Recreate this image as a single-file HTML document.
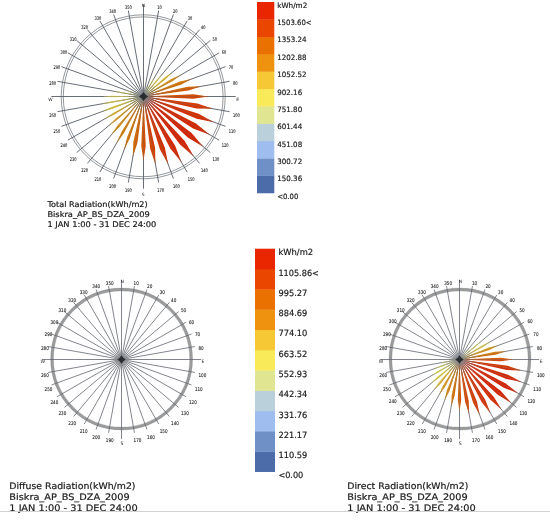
<!DOCTYPE html>
<html><head><meta charset="utf-8"><title>Radiation Rose</title>
<style>html,body{margin:0;padding:0;background:#fff;}svg{display:block;}text{text-rendering:geometricPrecision;}</style></head>
<body>
<svg width="550" height="521" viewBox="0 0 550 521" font-family="DejaVu Sans, Liberation Sans, sans-serif">
<defs><radialGradient id="halo"><stop offset="0" stop-color="#7c8187" stop-opacity="0.85"/><stop offset="0.55" stop-color="#8d9196" stop-opacity="0.55"/><stop offset="1" stop-color="#a0a4a8" stop-opacity="0"/></radialGradient></defs>
<rect width="550" height="521" fill="#ffffff"/>
<g>
<circle cx="143.2" cy="96.8" r="82.0" fill="none" stroke="#4c5259" stroke-width="0.6"/>
<circle cx="143.2" cy="96.8" r="79.9" fill="none" stroke="#4c5259" stroke-width="0.6"/>
<path d="M143.50,96.50L143.50,4.30M143.50,96.50L158.66,10.53M143.50,96.50L173.36,14.46M143.50,96.50L187.15,20.90M143.50,96.50L199.62,29.62M143.50,96.50L210.38,40.38M143.50,96.50L219.10,52.85M143.50,96.50L225.54,66.64M143.50,96.50L229.47,81.34M143.50,96.50L235.70,96.50M143.50,96.50L229.47,111.66M143.50,96.50L225.54,126.36M143.50,96.50L219.10,140.15M143.50,96.50L210.38,152.62M143.50,96.50L199.62,163.38M143.50,96.50L187.15,172.10M143.50,96.50L173.36,178.54M143.50,96.50L158.66,182.47M143.50,96.50L143.50,188.70M143.50,96.50L128.34,182.47M143.50,96.50L113.64,178.54M143.50,96.50L99.85,172.10M143.50,96.50L87.38,163.38M143.50,96.50L76.62,152.62M143.50,96.50L67.90,140.15M143.50,96.50L61.46,126.36M143.50,96.50L57.53,111.66M143.50,96.50L51.30,96.50M143.50,96.50L57.53,81.34M143.50,96.50L61.46,66.64M143.50,96.50L67.90,52.85M143.50,96.50L76.62,40.38M143.50,96.50L87.38,29.62M143.50,96.50L99.85,20.90M143.50,96.50L113.64,14.46M143.50,96.50L128.34,10.53" stroke="#575e66" stroke-width="0.9" fill="none"/>
<polygon points="143.50,96.50 146.42,87.73 147.60,85.22 146.66,87.82" fill="#dfd95c"/>
<polygon points="143.50,96.50 146.90,87.91 147.60,85.22 146.66,87.82" fill="#e0d859"/>
<polygon points="143.50,96.50 151.48,81.56 154.50,77.45 151.97,81.83" fill="#e1d754"/>
<polygon points="143.50,96.50 152.45,82.12 154.50,77.45 151.97,81.83" fill="#e2d551"/>
<polygon points="143.50,96.50 156.77,79.51 161.50,75.05 157.36,79.98" fill="#e2d551"/>
<polygon points="143.50,96.50 157.93,80.48 161.50,75.05 157.36,79.98" fill="#e2d049"/>
<polygon points="143.50,96.50 164.61,77.36 171.84,72.72 165.32,78.19" fill="#e3c840"/>
<polygon points="143.50,96.50 166.01,79.04 171.84,72.72 165.32,78.19" fill="#e0b22d"/>
<polygon points="143.50,96.50 171.49,78.81 180.74,75.00 172.17,79.94" fill="#dc9b1d"/>
<polygon points="143.50,96.50 172.81,81.11 180.74,75.00 172.17,79.94" fill="#d8850d"/>
<polygon points="143.50,96.50 179.80,81.52 191.42,79.06 180.40,83.07" fill="#d77d08"/>
<polygon points="143.50,96.50 180.94,84.64 191.42,79.06 180.40,83.07" fill="#d67003"/>
<polygon points="143.50,96.50 187.77,86.67 201.51,86.27 188.16,88.62" fill="#d56601"/>
<polygon points="143.50,96.50 188.47,90.60 201.51,86.27 188.16,88.62" fill="#d55900"/>
<polygon points="143.50,96.50 193.42,94.23 208.40,96.50 193.47,96.50" fill="#d55000"/>
<polygon points="143.50,96.50 193.42,98.77 208.40,96.50 193.47,96.50" fill="#d54400"/>
<polygon points="143.50,96.50 197.42,103.44 213.03,108.76 197.04,105.94" fill="#d53d00"/>
<polygon points="143.50,96.50 196.54,108.42 213.03,108.76 197.04,105.94" fill="#d53500"/>
<polygon points="143.50,96.50 198.64,113.66 213.98,122.15 197.77,116.25" fill="#d53100"/>
<polygon points="143.50,96.50 196.77,118.80 213.98,122.15 197.77,116.25" fill="#d52d00"/>
<polygon points="143.50,96.50 195.93,123.52 209.84,134.80 194.58,125.99" fill="#d52a00"/>
<polygon points="143.50,96.50 193.12,128.39 209.84,134.80 194.58,125.99" fill="#d52700"/>
<polygon points="143.50,96.50 191.55,133.04 203.56,146.89 189.74,135.30" fill="#d52400"/>
<polygon points="143.50,96.50 187.83,137.48 203.56,146.89 189.74,135.30" fill="#d52300"/>
<polygon points="143.50,96.50 184.48,140.83 193.89,156.56 182.30,142.74" fill="#d52300"/>
<polygon points="143.50,96.50 180.04,144.55 193.89,156.56 182.30,142.74" fill="#d52400"/>
<polygon points="143.50,96.50 175.14,145.73 181.50,162.32 172.76,147.18" fill="#d52700"/>
<polygon points="143.50,96.50 170.32,148.51 181.50,162.32 172.76,147.18" fill="#d52b00"/>
<polygon points="143.50,96.50 164.91,147.72 168.16,164.25 162.49,148.67" fill="#d52f00"/>
<polygon points="143.50,96.50 160.03,149.50 168.16,164.25 162.49,148.67" fill="#d53600"/>
<polygon points="143.50,96.50 155.08,148.12 155.43,164.16 152.69,148.60" fill="#d53c00"/>
<polygon points="143.50,96.50 150.27,148.96 155.43,164.16 152.69,148.60" fill="#d54600"/>
<polygon points="143.50,96.50 145.74,145.96 143.50,160.80 143.50,146.01" fill="#d54d00"/>
<polygon points="143.50,96.50 141.26,145.96 143.50,160.80 143.50,146.01" fill="#d55900"/>
<polygon points="143.50,96.50 137.41,143.07 132.91,156.57 135.34,142.76" fill="#d56100"/>
<polygon points="143.50,96.50 133.29,142.35 132.91,156.57 135.34,142.76" fill="#d56b01"/>
<polygon points="143.50,96.50 129.85,138.21 124.00,150.06 128.49,137.74" fill="#d57102"/>
<polygon points="143.50,96.50 127.15,137.23 124.00,150.06 128.49,137.74" fill="#d67805"/>
<polygon points="143.50,96.50 123.88,133.16 116.50,143.27 122.71,132.51" fill="#d77c08"/>
<polygon points="143.50,96.50 121.56,131.82 116.50,143.27 122.71,132.51" fill="#d8830c"/>
<polygon points="143.50,96.50 119.22,127.37 110.72,135.57 118.26,126.58" fill="#d8870f"/>
<polygon points="143.50,96.50 117.32,125.77 110.72,135.57 118.26,126.58" fill="#da9015"/>
<polygon points="143.50,96.50 117.08,120.09 108.26,126.07 116.37,119.27" fill="#db981b"/>
<polygon points="143.50,96.50 115.68,118.42 108.26,126.07 116.37,119.27" fill="#dea524"/>
<polygon points="143.50,96.50 114.03,114.73 104.53,119.00 113.49,113.83" fill="#dfaf2b"/>
<polygon points="143.50,96.50 112.98,112.90 104.53,119.00 113.49,113.83" fill="#e2be35"/>
<polygon points="143.50,96.50 112.03,109.05 102.15,111.55 111.66,108.09" fill="#e4c73c"/>
<polygon points="143.50,96.50 111.33,107.12 102.15,111.55 111.66,108.09" fill="#e5d043"/>
<polygon points="143.50,96.50 111.03,102.97 101.15,103.97 110.89,102.25" fill="#e5d145"/>
<polygon points="143.50,96.50 110.77,101.53 101.15,103.97 110.89,102.25" fill="#e4d34a"/>
<polygon points="143.50,96.50 111.94,97.19 102.50,96.50 111.93,96.50" fill="#e3d54e"/>
<polygon points="143.50,96.50 111.94,95.81 102.50,96.50 111.93,96.50" fill="#e2d653"/>
<polygon points="143.50,96.50 120.68,92.94 113.96,91.29 120.75,92.49" fill="#e1d756"/>
<polygon points="143.50,96.50 120.83,92.04 113.96,91.29 120.75,92.49" fill="#e0d859"/>
<polygon points="143.50,96.50 128.94,91.49 124.71,89.66 129.03,91.23" fill="#e0d95b"/>
<polygon points="143.50,96.50 129.12,90.98 124.71,89.66 129.03,91.23" fill="#dcd863"/>
<polygon points="143.50,96.50 136.73,92.82 134.84,91.50 136.83,92.65" fill="#d8d66c"/>
<polygon points="143.50,96.50 136.93,92.48 134.84,91.50 136.83,92.65" fill="#d5d473"/>
<path d="M143.50,96.50L147.60,85.22M143.50,96.50L154.50,77.45M143.50,96.50L161.50,75.05M143.50,96.50L171.84,72.72M143.50,96.50L180.74,75.00M143.50,96.50L191.42,79.06M143.50,96.50L201.51,86.27M143.50,96.50L208.40,96.50M143.50,96.50L213.03,108.76M143.50,96.50L213.98,122.15M143.50,96.50L209.84,134.80M143.50,96.50L203.56,146.89M143.50,96.50L193.89,156.56M143.50,96.50L181.50,162.32M143.50,96.50L168.16,164.25M143.50,96.50L155.43,164.16M143.50,96.50L143.50,160.80M143.50,96.50L132.91,156.57M143.50,96.50L124.00,150.06M143.50,96.50L116.50,143.27M143.50,96.50L110.72,135.57M143.50,96.50L108.26,126.07M143.50,96.50L104.53,119.00M143.50,96.50L102.15,111.55M143.50,96.50L101.15,103.97M143.50,96.50L102.50,96.50M143.50,96.50L113.96,91.29M143.50,96.50L124.71,89.66M143.50,96.50L134.84,91.50" stroke="#575e66" stroke-width="0.72" fill="none" opacity="0.2"/>
<path d="M143.50,96.50L147.60,85.22M143.50,96.50L150.50,84.38M143.50,96.50L152.50,85.78M143.50,96.50L154.22,87.50M143.50,96.50L155.62,89.50M143.50,96.50L156.66,91.71M143.50,96.50L157.29,94.07M143.50,96.50L157.50,96.50M143.50,96.50L157.29,98.93M143.50,96.50L156.66,101.29M143.50,96.50L155.62,103.50M143.50,96.50L154.22,105.50M143.50,96.50L152.50,107.22M143.50,96.50L150.50,108.62M143.50,96.50L148.29,109.66M143.50,96.50L145.93,110.29M143.50,96.50L143.50,110.50M143.50,96.50L141.07,110.29M143.50,96.50L138.71,109.66M143.50,96.50L136.50,108.62M143.50,96.50L134.50,107.22M143.50,96.50L132.78,105.50M143.50,96.50L131.38,103.50M143.50,96.50L130.34,101.29M143.50,96.50L129.71,98.93M143.50,96.50L129.50,96.50M143.50,96.50L129.71,94.07M143.50,96.50L130.34,91.71M143.50,96.50L134.84,91.50" stroke="#575e66" stroke-width="0.72" fill="none" opacity="0.35"/>
<circle cx="143.5" cy="96.5" r="8.74" fill="url(#halo)"/>
<polygon points="143.5,91.9 145.432,94.568 148.1,96.5 145.432,98.432 143.5,101.1 141.568,98.432 138.9,96.5 141.568,94.568" fill="#2a2d30"/>
<text x="141.80" y="7.01" font-size="4.41" fill="#1c1c1c">N</text>
<text x="157.28" y="8.90" font-size="4.9" fill="#1c1c1c" stroke="#1c1c1c" stroke-width="0.1" textLength="4.56" lengthAdjust="spacingAndGlyphs">10</text>
<text x="172.98" y="13.11" font-size="4.9" fill="#1c1c1c" stroke="#1c1c1c" stroke-width="0.1" textLength="4.56" lengthAdjust="spacingAndGlyphs">20</text>
<text x="187.70" y="19.97" font-size="4.9" fill="#1c1c1c" stroke="#1c1c1c" stroke-width="0.1" textLength="4.56" lengthAdjust="spacingAndGlyphs">30</text>
<text x="201.01" y="29.29" font-size="4.9" fill="#1c1c1c" stroke="#1c1c1c" stroke-width="0.1" textLength="4.56" lengthAdjust="spacingAndGlyphs">40</text>
<text x="212.50" y="40.78" font-size="4.9" fill="#1c1c1c" stroke="#1c1c1c" stroke-width="0.1" textLength="4.56" lengthAdjust="spacingAndGlyphs">50</text>
<text x="221.81" y="54.09" font-size="4.9" fill="#1c1c1c" stroke="#1c1c1c" stroke-width="0.1" textLength="4.56" lengthAdjust="spacingAndGlyphs">60</text>
<text x="228.68" y="68.81" font-size="4.9" fill="#1c1c1c" stroke="#1c1c1c" stroke-width="0.1" textLength="4.56" lengthAdjust="spacingAndGlyphs">70</text>
<text x="232.88" y="84.50" font-size="4.9" fill="#1c1c1c" stroke="#1c1c1c" stroke-width="0.1" textLength="4.56" lengthAdjust="spacingAndGlyphs">80</text>
<text x="236.30" y="100.51" font-size="4.41" fill="#1c1c1c">E</text>
<text x="232.88" y="116.87" font-size="4.9" fill="#1c1c1c" stroke="#1c1c1c" stroke-width="0.1" textLength="6.84" lengthAdjust="spacingAndGlyphs">100</text>
<text x="228.68" y="132.56" font-size="4.9" fill="#1c1c1c" stroke="#1c1c1c" stroke-width="0.1" textLength="6.84" lengthAdjust="spacingAndGlyphs">110</text>
<text x="221.81" y="147.29" font-size="4.9" fill="#1c1c1c" stroke="#1c1c1c" stroke-width="0.1" textLength="6.84" lengthAdjust="spacingAndGlyphs">120</text>
<text x="212.50" y="160.60" font-size="4.9" fill="#1c1c1c" stroke="#1c1c1c" stroke-width="0.1" textLength="6.84" lengthAdjust="spacingAndGlyphs">130</text>
<text x="201.01" y="172.08" font-size="4.9" fill="#1c1c1c" stroke="#1c1c1c" stroke-width="0.1" textLength="6.84" lengthAdjust="spacingAndGlyphs">140</text>
<text x="187.70" y="181.40" font-size="4.9" fill="#1c1c1c" stroke="#1c1c1c" stroke-width="0.1" textLength="6.84" lengthAdjust="spacingAndGlyphs">150</text>
<text x="172.98" y="188.27" font-size="4.9" fill="#1c1c1c" stroke="#1c1c1c" stroke-width="0.1" textLength="6.84" lengthAdjust="spacingAndGlyphs">160</text>
<text x="157.28" y="192.47" font-size="4.9" fill="#1c1c1c" stroke="#1c1c1c" stroke-width="0.1" textLength="6.84" lengthAdjust="spacingAndGlyphs">170</text>
<text x="141.80" y="195.51" font-size="4.41" fill="#1c1c1c">S</text>
<text x="124.92" y="192.47" font-size="4.9" fill="#1c1c1c" stroke="#1c1c1c" stroke-width="0.1" textLength="6.84" lengthAdjust="spacingAndGlyphs">190</text>
<text x="109.22" y="188.27" font-size="4.9" fill="#1c1c1c" stroke="#1c1c1c" stroke-width="0.1" textLength="6.84" lengthAdjust="spacingAndGlyphs">200</text>
<text x="94.50" y="181.40" font-size="4.9" fill="#1c1c1c" stroke="#1c1c1c" stroke-width="0.1" textLength="6.84" lengthAdjust="spacingAndGlyphs">210</text>
<text x="81.19" y="172.08" font-size="4.9" fill="#1c1c1c" stroke="#1c1c1c" stroke-width="0.1" textLength="6.84" lengthAdjust="spacingAndGlyphs">220</text>
<text x="69.70" y="160.60" font-size="4.9" fill="#1c1c1c" stroke="#1c1c1c" stroke-width="0.1" textLength="6.84" lengthAdjust="spacingAndGlyphs">230</text>
<text x="60.39" y="147.29" font-size="4.9" fill="#1c1c1c" stroke="#1c1c1c" stroke-width="0.1" textLength="6.84" lengthAdjust="spacingAndGlyphs">240</text>
<text x="53.52" y="132.56" font-size="4.9" fill="#1c1c1c" stroke="#1c1c1c" stroke-width="0.1" textLength="6.84" lengthAdjust="spacingAndGlyphs">250</text>
<text x="49.32" y="116.87" font-size="4.9" fill="#1c1c1c" stroke="#1c1c1c" stroke-width="0.1" textLength="6.84" lengthAdjust="spacingAndGlyphs">260</text>
<text x="48.30" y="100.51" font-size="4.41" fill="#1c1c1c">W</text>
<text x="49.32" y="84.50" font-size="4.9" fill="#1c1c1c" stroke="#1c1c1c" stroke-width="0.1" textLength="6.84" lengthAdjust="spacingAndGlyphs">280</text>
<text x="53.52" y="68.81" font-size="4.9" fill="#1c1c1c" stroke="#1c1c1c" stroke-width="0.1" textLength="6.84" lengthAdjust="spacingAndGlyphs">290</text>
<text x="60.39" y="54.09" font-size="4.9" fill="#1c1c1c" stroke="#1c1c1c" stroke-width="0.1" textLength="6.84" lengthAdjust="spacingAndGlyphs">300</text>
<text x="69.70" y="40.78" font-size="4.9" fill="#1c1c1c" stroke="#1c1c1c" stroke-width="0.1" textLength="6.84" lengthAdjust="spacingAndGlyphs">310</text>
<text x="81.19" y="29.29" font-size="4.9" fill="#1c1c1c" stroke="#1c1c1c" stroke-width="0.1" textLength="6.84" lengthAdjust="spacingAndGlyphs">320</text>
<text x="94.50" y="19.97" font-size="4.9" fill="#1c1c1c" stroke="#1c1c1c" stroke-width="0.1" textLength="6.84" lengthAdjust="spacingAndGlyphs">330</text>
<text x="109.22" y="13.11" font-size="4.9" fill="#1c1c1c" stroke="#1c1c1c" stroke-width="0.1" textLength="6.84" lengthAdjust="spacingAndGlyphs">340</text>
<text x="124.92" y="8.90" font-size="4.9" fill="#1c1c1c" stroke="#1c1c1c" stroke-width="0.1" textLength="6.84" lengthAdjust="spacingAndGlyphs">350</text>
</g>
<g>
<circle cx="121.6" cy="359.0" r="69.55" fill="none" stroke="#9b9b9b" stroke-width="2.90"/>
<circle cx="121.6" cy="359.0" r="71.0" fill="none" stroke="#62676e" stroke-width="0.4" opacity="0.45"/>
<circle cx="121.6" cy="359.0" r="68.1" fill="none" stroke="#62676e" stroke-width="0.4" opacity="0.45"/>
<path d="M121.50,359.50L121.50,279.90M121.50,359.50L134.44,286.13M121.50,359.50L146.98,289.49M121.50,359.50L158.75,294.98M121.50,359.50L169.39,302.43M121.50,359.50L178.57,311.61M121.50,359.50L186.02,322.25M121.50,359.50L191.51,334.02M121.50,359.50L194.87,346.56M121.50,359.50L201.10,359.50M121.50,359.50L194.87,372.44M121.50,359.50L191.51,384.98M121.50,359.50L186.02,396.75M121.50,359.50L178.57,407.39M121.50,359.50L169.39,416.57M121.50,359.50L158.75,424.02M121.50,359.50L146.98,429.51M121.50,359.50L134.44,432.87M121.50,359.50L121.50,439.10M121.50,359.50L108.56,432.87M121.50,359.50L96.02,429.51M121.50,359.50L84.25,424.02M121.50,359.50L73.61,416.57M121.50,359.50L64.43,407.39M121.50,359.50L56.98,396.75M121.50,359.50L51.49,384.98M121.50,359.50L48.13,372.44M121.50,359.50L41.90,359.50M121.50,359.50L48.13,346.56M121.50,359.50L51.49,334.02M121.50,359.50L56.98,322.25M121.50,359.50L64.43,311.61M121.50,359.50L73.61,302.43M121.50,359.50L84.25,294.98M121.50,359.50L96.02,289.49M121.50,359.50L108.56,286.13" stroke="#62676e" stroke-width="0.8" fill="none"/>
<circle cx="121.5" cy="359.5" r="7.98" fill="url(#halo)"/>
<polygon points="121.5,355.3 123.264,357.736 125.7,359.5 123.264,361.264 121.5,363.7 119.736,361.264 117.3,359.5 119.736,357.736" fill="#2a2d30"/>
<text x="120.40" y="283.38" font-size="4.59" fill="#1c1c1c">N</text>
<text x="133.59" y="284.78" font-size="5.1" fill="#1c1c1c" stroke="#1c1c1c" stroke-width="0.1" textLength="5.24" lengthAdjust="spacingAndGlyphs">10</text>
<text x="147.06" y="288.39" font-size="5.1" fill="#1c1c1c" stroke="#1c1c1c" stroke-width="0.1" textLength="5.24" lengthAdjust="spacingAndGlyphs">20</text>
<text x="159.70" y="294.28" font-size="5.1" fill="#1c1c1c" stroke="#1c1c1c" stroke-width="0.1" textLength="5.24" lengthAdjust="spacingAndGlyphs">30</text>
<text x="171.12" y="302.28" font-size="5.1" fill="#1c1c1c" stroke="#1c1c1c" stroke-width="0.1" textLength="5.24" lengthAdjust="spacingAndGlyphs">40</text>
<text x="180.98" y="312.14" font-size="5.1" fill="#1c1c1c" stroke="#1c1c1c" stroke-width="0.1" textLength="5.24" lengthAdjust="spacingAndGlyphs">50</text>
<text x="188.98" y="323.56" font-size="5.1" fill="#1c1c1c" stroke="#1c1c1c" stroke-width="0.1" textLength="5.24" lengthAdjust="spacingAndGlyphs">60</text>
<text x="194.88" y="336.20" font-size="5.1" fill="#1c1c1c" stroke="#1c1c1c" stroke-width="0.1" textLength="5.24" lengthAdjust="spacingAndGlyphs">70</text>
<text x="198.48" y="349.67" font-size="5.1" fill="#1c1c1c" stroke="#1c1c1c" stroke-width="0.1" textLength="5.24" lengthAdjust="spacingAndGlyphs">80</text>
<text x="201.40" y="363.38" font-size="4.59" fill="#1c1c1c">E</text>
<text x="198.48" y="377.45" font-size="5.1" fill="#1c1c1c" stroke="#1c1c1c" stroke-width="0.1" textLength="7.86" lengthAdjust="spacingAndGlyphs">100</text>
<text x="194.88" y="390.92" font-size="5.1" fill="#1c1c1c" stroke="#1c1c1c" stroke-width="0.1" textLength="7.86" lengthAdjust="spacingAndGlyphs">110</text>
<text x="188.98" y="403.56" font-size="5.1" fill="#1c1c1c" stroke="#1c1c1c" stroke-width="0.1" textLength="7.86" lengthAdjust="spacingAndGlyphs">120</text>
<text x="180.98" y="414.98" font-size="5.1" fill="#1c1c1c" stroke="#1c1c1c" stroke-width="0.1" textLength="7.86" lengthAdjust="spacingAndGlyphs">130</text>
<text x="171.12" y="424.85" font-size="5.1" fill="#1c1c1c" stroke="#1c1c1c" stroke-width="0.1" textLength="7.86" lengthAdjust="spacingAndGlyphs">140</text>
<text x="159.70" y="432.84" font-size="5.1" fill="#1c1c1c" stroke="#1c1c1c" stroke-width="0.1" textLength="7.86" lengthAdjust="spacingAndGlyphs">150</text>
<text x="147.06" y="438.74" font-size="5.1" fill="#1c1c1c" stroke="#1c1c1c" stroke-width="0.1" textLength="7.86" lengthAdjust="spacingAndGlyphs">160</text>
<text x="133.59" y="442.35" font-size="5.1" fill="#1c1c1c" stroke="#1c1c1c" stroke-width="0.1" textLength="7.86" lengthAdjust="spacingAndGlyphs">170</text>
<text x="120.40" y="445.38" font-size="4.59" fill="#1c1c1c">S</text>
<text x="105.81" y="442.35" font-size="5.1" fill="#1c1c1c" stroke="#1c1c1c" stroke-width="0.1" textLength="7.86" lengthAdjust="spacingAndGlyphs">190</text>
<text x="92.34" y="438.74" font-size="5.1" fill="#1c1c1c" stroke="#1c1c1c" stroke-width="0.1" textLength="7.86" lengthAdjust="spacingAndGlyphs">200</text>
<text x="79.70" y="432.84" font-size="5.1" fill="#1c1c1c" stroke="#1c1c1c" stroke-width="0.1" textLength="7.86" lengthAdjust="spacingAndGlyphs">210</text>
<text x="68.28" y="424.85" font-size="5.1" fill="#1c1c1c" stroke="#1c1c1c" stroke-width="0.1" textLength="7.86" lengthAdjust="spacingAndGlyphs">220</text>
<text x="58.42" y="414.98" font-size="5.1" fill="#1c1c1c" stroke="#1c1c1c" stroke-width="0.1" textLength="7.86" lengthAdjust="spacingAndGlyphs">230</text>
<text x="50.42" y="403.56" font-size="5.1" fill="#1c1c1c" stroke="#1c1c1c" stroke-width="0.1" textLength="7.86" lengthAdjust="spacingAndGlyphs">240</text>
<text x="44.52" y="390.92" font-size="5.1" fill="#1c1c1c" stroke="#1c1c1c" stroke-width="0.1" textLength="7.86" lengthAdjust="spacingAndGlyphs">250</text>
<text x="40.92" y="377.45" font-size="5.1" fill="#1c1c1c" stroke="#1c1c1c" stroke-width="0.1" textLength="7.86" lengthAdjust="spacingAndGlyphs">260</text>
<text x="40.40" y="363.38" font-size="4.59" fill="#1c1c1c">W</text>
<text x="40.92" y="349.67" font-size="5.1" fill="#1c1c1c" stroke="#1c1c1c" stroke-width="0.1" textLength="7.86" lengthAdjust="spacingAndGlyphs">280</text>
<text x="44.52" y="336.20" font-size="5.1" fill="#1c1c1c" stroke="#1c1c1c" stroke-width="0.1" textLength="7.86" lengthAdjust="spacingAndGlyphs">290</text>
<text x="50.42" y="323.56" font-size="5.1" fill="#1c1c1c" stroke="#1c1c1c" stroke-width="0.1" textLength="7.86" lengthAdjust="spacingAndGlyphs">300</text>
<text x="58.42" y="312.14" font-size="5.1" fill="#1c1c1c" stroke="#1c1c1c" stroke-width="0.1" textLength="7.86" lengthAdjust="spacingAndGlyphs">310</text>
<text x="68.28" y="302.28" font-size="5.1" fill="#1c1c1c" stroke="#1c1c1c" stroke-width="0.1" textLength="7.86" lengthAdjust="spacingAndGlyphs">320</text>
<text x="79.70" y="294.28" font-size="5.1" fill="#1c1c1c" stroke="#1c1c1c" stroke-width="0.1" textLength="7.86" lengthAdjust="spacingAndGlyphs">330</text>
<text x="92.34" y="288.39" font-size="5.1" fill="#1c1c1c" stroke="#1c1c1c" stroke-width="0.1" textLength="7.86" lengthAdjust="spacingAndGlyphs">340</text>
<text x="105.81" y="284.78" font-size="5.1" fill="#1c1c1c" stroke="#1c1c1c" stroke-width="0.1" textLength="7.86" lengthAdjust="spacingAndGlyphs">350</text>
</g>
<g>
<circle cx="460.0" cy="359.0" r="69.55" fill="none" stroke="#9b9b9b" stroke-width="2.90"/>
<circle cx="460.0" cy="359.0" r="71.0" fill="none" stroke="#62676e" stroke-width="0.4" opacity="0.45"/>
<circle cx="460.0" cy="359.0" r="68.1" fill="none" stroke="#62676e" stroke-width="0.4" opacity="0.45"/>
<path d="M459.50,359.50L459.50,279.90M459.50,359.50L472.44,286.13M459.50,359.50L484.98,289.49M459.50,359.50L496.75,294.98M459.50,359.50L507.39,302.43M459.50,359.50L516.57,311.61M459.50,359.50L524.02,322.25M459.50,359.50L529.51,334.02M459.50,359.50L532.87,346.56M459.50,359.50L539.10,359.50M459.50,359.50L532.87,372.44M459.50,359.50L529.51,384.98M459.50,359.50L524.02,396.75M459.50,359.50L516.57,407.39M459.50,359.50L507.39,416.57M459.50,359.50L496.75,424.02M459.50,359.50L484.98,429.51M459.50,359.50L472.44,432.87M459.50,359.50L459.50,439.10M459.50,359.50L446.56,432.87M459.50,359.50L434.02,429.51M459.50,359.50L422.25,424.02M459.50,359.50L411.61,416.57M459.50,359.50L402.43,407.39M459.50,359.50L394.98,396.75M459.50,359.50L389.49,384.98M459.50,359.50L386.13,372.44M459.50,359.50L379.90,359.50M459.50,359.50L386.13,346.56M459.50,359.50L389.49,334.02M459.50,359.50L394.98,322.25M459.50,359.50L402.43,311.61M459.50,359.50L411.61,302.43M459.50,359.50L422.25,294.98M459.50,359.50L434.02,289.49M459.50,359.50L446.56,286.13" stroke="#62676e" stroke-width="0.8" fill="none"/>
<polygon points="459.50,359.50 466.19,351.05 468.50,348.78 466.43,351.24" fill="#cfd17f"/>
<polygon points="459.50,359.50 466.66,351.44 468.50,348.78 466.43,351.24" fill="#d2d377"/>
<polygon points="459.50,359.50 475.41,345.18 480.80,341.63 475.90,345.74" fill="#d7d66d"/>
<polygon points="459.50,359.50 476.37,346.32 480.80,341.63 475.90,345.74" fill="#ddd760"/>
<polygon points="459.50,359.50 482.26,345.21 489.72,342.05 482.77,346.06" fill="#dfd759"/>
<polygon points="459.50,359.50 483.26,346.94 489.72,342.05 482.77,346.06" fill="#dfc342"/>
<polygon points="459.50,359.50 488.58,347.61 497.84,345.55 489.02,348.76" fill="#dda92a"/>
<polygon points="459.50,359.50 489.42,349.91 497.84,345.55 489.02,348.76" fill="#d98c12"/>
<polygon points="459.50,359.50 494.93,351.75 505.88,351.32 495.22,353.20" fill="#d77f0a"/>
<polygon points="459.50,359.50 495.44,354.66 505.88,351.32 495.22,353.20" fill="#d66a03"/>
<polygon points="459.50,359.50 500.66,357.76 513.00,359.50 500.69,359.50" fill="#d55a01"/>
<polygon points="459.50,359.50 500.66,361.24 513.00,359.50 500.69,359.50" fill="#d54600"/>
<polygon points="459.50,359.50 507.60,365.79 521.54,370.44 507.27,367.92" fill="#d53a00"/>
<polygon points="459.50,359.50 506.85,370.04 521.54,370.44 507.27,367.92" fill="#d52e00"/>
<polygon points="459.50,359.50 507.99,374.71 521.52,382.07 507.26,376.88" fill="#d52a00"/>
<polygon points="459.50,359.50 506.42,379.01 521.52,382.07 507.26,376.88" fill="#d52600"/>
<polygon points="459.50,359.50 505.71,383.45 518.04,393.30 504.58,385.53" fill="#d52400"/>
<polygon points="459.50,359.50 503.35,387.54 518.04,393.30 504.58,385.53" fill="#d52300"/>
<polygon points="459.50,359.50 500.85,391.12 511.28,402.95 499.37,392.96" fill="#d52300"/>
<polygon points="459.50,359.50 497.82,394.73 511.28,402.95 499.37,392.96" fill="#d52400"/>
<polygon points="459.50,359.50 493.68,396.70 501.67,409.75 491.97,398.19" fill="#d52700"/>
<polygon points="459.50,359.50 490.20,399.61 501.67,409.75 491.97,398.19" fill="#d52c00"/>
<polygon points="459.50,359.50 485.22,399.81 490.55,413.28 483.41,400.91" fill="#d53000"/>
<polygon points="459.50,359.50 481.55,401.93 490.55,413.28 483.41,400.91" fill="#d53600"/>
<polygon points="459.50,359.50 476.91,401.54 479.71,415.04 475.06,402.26" fill="#d53900"/>
<polygon points="459.50,359.50 473.19,402.90 479.71,415.04 475.06,402.26" fill="#d53f00"/>
<polygon points="459.50,359.50 468.68,401.08 469.10,413.96 466.89,401.43" fill="#d54400"/>
<polygon points="459.50,359.50 465.10,401.71 469.10,413.96 466.89,401.43" fill="#d54c00"/>
<polygon points="459.50,359.50 461.19,399.66 459.50,411.70 459.50,399.69" fill="#d55200"/>
<polygon points="459.50,359.50 457.81,399.66 459.50,411.70 459.50,399.69" fill="#d56001"/>
<polygon points="459.50,359.50 454.62,395.75 451.25,406.28 453.15,395.52" fill="#d56b02"/>
<polygon points="459.50,359.50 451.68,395.23 451.25,406.28 453.15,395.52" fill="#d67906"/>
<polygon points="459.50,359.50 449.37,391.18 444.72,400.09 448.12,390.76" fill="#d7800a"/>
<polygon points="459.50,359.50 446.89,390.28 444.72,400.09 448.12,390.76" fill="#d98a11"/>
<polygon points="459.50,359.50 444.86,387.30 439.10,394.83 443.79,386.71" fill="#da9115"/>
<polygon points="459.50,359.50 442.74,386.07 439.10,394.83 443.79,386.71" fill="#dc9f1f"/>
<polygon points="459.50,359.50 440.86,383.54 434.11,389.76 439.95,382.80" fill="#dfac29"/>
<polygon points="459.50,359.50 439.06,382.03 434.11,389.76 439.95,382.80" fill="#e2be37"/>
<polygon points="459.50,359.50 438.16,378.84 430.85,383.54 437.44,378.01" fill="#e3ca40"/>
<polygon points="459.50,359.50 436.75,377.16 430.85,383.54 437.44,378.01" fill="#e3d44d"/>
<polygon points="459.50,359.50 438.69,372.54 431.87,375.45 438.23,371.78" fill="#e1d754"/>
<polygon points="459.50,359.50 437.80,371.00 431.87,375.45 438.23,371.78" fill="#ded85f"/>
<polygon points="459.50,359.50 440.36,367.22 434.32,368.67 440.11,366.56" fill="#dbd766"/>
<polygon points="459.50,359.50 439.88,365.89 434.32,368.67 440.11,366.56" fill="#d7d56e"/>
<polygon points="459.50,359.50 444.95,362.54 440.49,362.85 444.86,362.08" fill="#d4d473"/>
<polygon points="459.50,359.50 444.79,361.62 440.49,362.85 444.86,362.08" fill="#d1d27b"/>
<polygon points="459.50,359.50 451.80,359.70 449.50,359.50 451.80,359.50" fill="#ced181"/>
<polygon points="459.50,359.50 451.80,359.30 449.50,359.50 451.80,359.50" fill="#cbd085"/>
<path d="M459.50,359.50L468.50,348.78M459.50,359.50L480.80,341.63M459.50,359.50L489.72,342.05M459.50,359.50L497.84,345.55M459.50,359.50L505.88,351.32M459.50,359.50L513.00,359.50M459.50,359.50L521.54,370.44M459.50,359.50L521.52,382.07M459.50,359.50L518.04,393.30M459.50,359.50L511.28,402.95M459.50,359.50L501.67,409.75M459.50,359.50L490.55,413.28M459.50,359.50L479.71,415.04M459.50,359.50L469.10,413.96M459.50,359.50L459.50,411.70M459.50,359.50L451.25,406.28M459.50,359.50L444.72,400.09M459.50,359.50L439.10,394.83M459.50,359.50L434.11,389.76M459.50,359.50L430.85,383.54M459.50,359.50L431.87,375.45M459.50,359.50L434.32,368.67M459.50,359.50L440.49,362.85M459.50,359.50L449.50,359.50" stroke="#62676e" stroke-width="0.64" fill="none" opacity="0.2"/>
<path d="M459.50,359.50L468.50,348.78M459.50,359.50L470.22,350.50M459.50,359.50L471.62,352.50M459.50,359.50L472.66,354.71M459.50,359.50L473.29,357.07M459.50,359.50L473.50,359.50M459.50,359.50L473.29,361.93M459.50,359.50L472.66,364.29M459.50,359.50L471.62,366.50M459.50,359.50L470.22,368.50M459.50,359.50L468.50,370.22M459.50,359.50L466.50,371.62M459.50,359.50L464.29,372.66M459.50,359.50L461.93,373.29M459.50,359.50L459.50,373.50M459.50,359.50L457.07,373.29M459.50,359.50L454.71,372.66M459.50,359.50L452.50,371.62M459.50,359.50L450.50,370.22M459.50,359.50L448.78,368.50M459.50,359.50L447.38,366.50M459.50,359.50L446.34,364.29M459.50,359.50L445.71,361.93M459.50,359.50L449.50,359.50" stroke="#62676e" stroke-width="0.64" fill="none" opacity="0.35"/>
<circle cx="459.5" cy="359.5" r="7.98" fill="url(#halo)"/>
<polygon points="459.5,355.3 461.264,357.736 463.7,359.5 461.264,361.264 459.5,363.7 457.736,361.264 455.3,359.5 457.736,357.736" fill="#2a2d30"/>
<text x="458.80" y="283.28" font-size="4.59" fill="#1c1c1c">N</text>
<text x="471.99" y="284.68" font-size="5.1" fill="#1c1c1c" stroke="#1c1c1c" stroke-width="0.1" textLength="5.24" lengthAdjust="spacingAndGlyphs">10</text>
<text x="485.46" y="288.29" font-size="5.1" fill="#1c1c1c" stroke="#1c1c1c" stroke-width="0.1" textLength="5.24" lengthAdjust="spacingAndGlyphs">20</text>
<text x="498.10" y="294.18" font-size="5.1" fill="#1c1c1c" stroke="#1c1c1c" stroke-width="0.1" textLength="5.24" lengthAdjust="spacingAndGlyphs">30</text>
<text x="509.52" y="302.18" font-size="5.1" fill="#1c1c1c" stroke="#1c1c1c" stroke-width="0.1" textLength="5.24" lengthAdjust="spacingAndGlyphs">40</text>
<text x="519.38" y="312.04" font-size="5.1" fill="#1c1c1c" stroke="#1c1c1c" stroke-width="0.1" textLength="5.24" lengthAdjust="spacingAndGlyphs">50</text>
<text x="527.38" y="323.46" font-size="5.1" fill="#1c1c1c" stroke="#1c1c1c" stroke-width="0.1" textLength="5.24" lengthAdjust="spacingAndGlyphs">60</text>
<text x="533.28" y="336.10" font-size="5.1" fill="#1c1c1c" stroke="#1c1c1c" stroke-width="0.1" textLength="5.24" lengthAdjust="spacingAndGlyphs">70</text>
<text x="536.88" y="349.57" font-size="5.1" fill="#1c1c1c" stroke="#1c1c1c" stroke-width="0.1" textLength="5.24" lengthAdjust="spacingAndGlyphs">80</text>
<text x="539.80" y="363.28" font-size="4.59" fill="#1c1c1c">E</text>
<text x="536.88" y="377.35" font-size="5.1" fill="#1c1c1c" stroke="#1c1c1c" stroke-width="0.1" textLength="7.86" lengthAdjust="spacingAndGlyphs">100</text>
<text x="533.28" y="390.82" font-size="5.1" fill="#1c1c1c" stroke="#1c1c1c" stroke-width="0.1" textLength="7.86" lengthAdjust="spacingAndGlyphs">110</text>
<text x="527.38" y="403.46" font-size="5.1" fill="#1c1c1c" stroke="#1c1c1c" stroke-width="0.1" textLength="7.86" lengthAdjust="spacingAndGlyphs">120</text>
<text x="519.38" y="414.88" font-size="5.1" fill="#1c1c1c" stroke="#1c1c1c" stroke-width="0.1" textLength="7.86" lengthAdjust="spacingAndGlyphs">130</text>
<text x="509.52" y="424.75" font-size="5.1" fill="#1c1c1c" stroke="#1c1c1c" stroke-width="0.1" textLength="7.86" lengthAdjust="spacingAndGlyphs">140</text>
<text x="498.10" y="432.74" font-size="5.1" fill="#1c1c1c" stroke="#1c1c1c" stroke-width="0.1" textLength="7.86" lengthAdjust="spacingAndGlyphs">150</text>
<text x="485.46" y="438.64" font-size="5.1" fill="#1c1c1c" stroke="#1c1c1c" stroke-width="0.1" textLength="7.86" lengthAdjust="spacingAndGlyphs">160</text>
<text x="471.99" y="442.25" font-size="5.1" fill="#1c1c1c" stroke="#1c1c1c" stroke-width="0.1" textLength="7.86" lengthAdjust="spacingAndGlyphs">170</text>
<text x="458.80" y="445.28" font-size="4.59" fill="#1c1c1c">S</text>
<text x="444.21" y="442.25" font-size="5.1" fill="#1c1c1c" stroke="#1c1c1c" stroke-width="0.1" textLength="7.86" lengthAdjust="spacingAndGlyphs">190</text>
<text x="430.74" y="438.64" font-size="5.1" fill="#1c1c1c" stroke="#1c1c1c" stroke-width="0.1" textLength="7.86" lengthAdjust="spacingAndGlyphs">200</text>
<text x="418.10" y="432.74" font-size="5.1" fill="#1c1c1c" stroke="#1c1c1c" stroke-width="0.1" textLength="7.86" lengthAdjust="spacingAndGlyphs">210</text>
<text x="406.68" y="424.75" font-size="5.1" fill="#1c1c1c" stroke="#1c1c1c" stroke-width="0.1" textLength="7.86" lengthAdjust="spacingAndGlyphs">220</text>
<text x="396.82" y="414.88" font-size="5.1" fill="#1c1c1c" stroke="#1c1c1c" stroke-width="0.1" textLength="7.86" lengthAdjust="spacingAndGlyphs">230</text>
<text x="388.82" y="403.46" font-size="5.1" fill="#1c1c1c" stroke="#1c1c1c" stroke-width="0.1" textLength="7.86" lengthAdjust="spacingAndGlyphs">240</text>
<text x="382.92" y="390.82" font-size="5.1" fill="#1c1c1c" stroke="#1c1c1c" stroke-width="0.1" textLength="7.86" lengthAdjust="spacingAndGlyphs">250</text>
<text x="379.32" y="377.35" font-size="5.1" fill="#1c1c1c" stroke="#1c1c1c" stroke-width="0.1" textLength="7.86" lengthAdjust="spacingAndGlyphs">260</text>
<text x="378.80" y="363.28" font-size="4.59" fill="#1c1c1c">W</text>
<text x="379.32" y="349.57" font-size="5.1" fill="#1c1c1c" stroke="#1c1c1c" stroke-width="0.1" textLength="7.86" lengthAdjust="spacingAndGlyphs">280</text>
<text x="382.92" y="336.10" font-size="5.1" fill="#1c1c1c" stroke="#1c1c1c" stroke-width="0.1" textLength="7.86" lengthAdjust="spacingAndGlyphs">290</text>
<text x="388.82" y="323.46" font-size="5.1" fill="#1c1c1c" stroke="#1c1c1c" stroke-width="0.1" textLength="7.86" lengthAdjust="spacingAndGlyphs">300</text>
<text x="396.82" y="312.04" font-size="5.1" fill="#1c1c1c" stroke="#1c1c1c" stroke-width="0.1" textLength="7.86" lengthAdjust="spacingAndGlyphs">310</text>
<text x="406.68" y="302.18" font-size="5.1" fill="#1c1c1c" stroke="#1c1c1c" stroke-width="0.1" textLength="7.86" lengthAdjust="spacingAndGlyphs">320</text>
<text x="418.10" y="294.18" font-size="5.1" fill="#1c1c1c" stroke="#1c1c1c" stroke-width="0.1" textLength="7.86" lengthAdjust="spacingAndGlyphs">330</text>
<text x="430.74" y="288.29" font-size="5.1" fill="#1c1c1c" stroke="#1c1c1c" stroke-width="0.1" textLength="7.86" lengthAdjust="spacingAndGlyphs">340</text>
<text x="444.21" y="284.68" font-size="5.1" fill="#1c1c1c" stroke="#1c1c1c" stroke-width="0.1" textLength="7.86" lengthAdjust="spacingAndGlyphs">350</text>
</g>
<rect x="257" y="175.60" width="17.3" height="17.66" fill="#4b6ba9"/>
<rect x="257" y="158.24" width="17.3" height="17.66" fill="#6f8fc7"/>
<rect x="257" y="140.88" width="17.3" height="17.66" fill="#9fbdee"/>
<rect x="257" y="123.52" width="17.3" height="17.66" fill="#bad1dc"/>
<rect x="257" y="106.16" width="17.3" height="17.66" fill="#e0e591"/>
<rect x="257" y="88.80" width="17.3" height="17.66" fill="#f8ea58"/>
<rect x="257" y="71.44" width="17.3" height="17.66" fill="#f7c835"/>
<rect x="257" y="54.08" width="17.3" height="17.66" fill="#ee920f"/>
<rect x="257" y="36.72" width="17.3" height="17.66" fill="#ea7100"/>
<rect x="257" y="19.36" width="17.3" height="17.66" fill="#ea4600"/>
<rect x="257" y="2.00" width="17.3" height="17.66" fill="#ea2600"/>
<text x="277.2" y="7.75" font-size="7.35" fill="#1a1a1a" stroke="#1a1a1a" stroke-width="0.18" textLength="30.1" lengthAdjust="spacingAndGlyphs">kWh/m2</text>
<text x="277.2" y="25.11" font-size="7.35" fill="#1a1a1a" stroke="#1a1a1a" stroke-width="0.18" textLength="34.5" lengthAdjust="spacingAndGlyphs">1503.60&lt;</text>
<text x="277.2" y="42.47" font-size="7.35" fill="#1a1a1a" stroke="#1a1a1a" stroke-width="0.18" textLength="29.4" lengthAdjust="spacingAndGlyphs">1353.24</text>
<text x="277.2" y="59.83" font-size="7.35" fill="#1a1a1a" stroke="#1a1a1a" stroke-width="0.18" textLength="29.4" lengthAdjust="spacingAndGlyphs">1202.88</text>
<text x="277.2" y="77.19" font-size="7.35" fill="#1a1a1a" stroke="#1a1a1a" stroke-width="0.18" textLength="29.4" lengthAdjust="spacingAndGlyphs">1052.52</text>
<text x="277.2" y="94.55" font-size="7.35" fill="#1a1a1a" stroke="#1a1a1a" stroke-width="0.18" textLength="25" lengthAdjust="spacingAndGlyphs">902.16</text>
<text x="277.2" y="111.91" font-size="7.35" fill="#1a1a1a" stroke="#1a1a1a" stroke-width="0.18" textLength="25" lengthAdjust="spacingAndGlyphs">751.80</text>
<text x="277.2" y="129.27" font-size="7.35" fill="#1a1a1a" stroke="#1a1a1a" stroke-width="0.18" textLength="25" lengthAdjust="spacingAndGlyphs">601.44</text>
<text x="277.2" y="146.63" font-size="7.35" fill="#1a1a1a" stroke="#1a1a1a" stroke-width="0.18" textLength="25" lengthAdjust="spacingAndGlyphs">451.08</text>
<text x="277.2" y="163.99" font-size="7.35" fill="#1a1a1a" stroke="#1a1a1a" stroke-width="0.18" textLength="25" lengthAdjust="spacingAndGlyphs">300.72</text>
<text x="277.2" y="181.35" font-size="7.35" fill="#1a1a1a" stroke="#1a1a1a" stroke-width="0.18" textLength="25" lengthAdjust="spacingAndGlyphs">150.36</text>
<text x="277.2" y="198.71" font-size="7.35" fill="#1a1a1a" stroke="#1a1a1a" stroke-width="0.18" textLength="21.1" lengthAdjust="spacingAndGlyphs">&lt;0.00</text>
<rect x="255" y="451.40" width="20" height="20.57" fill="#4b6ba9"/>
<rect x="255" y="431.13" width="20" height="20.57" fill="#6f8fc7"/>
<rect x="255" y="410.86" width="20" height="20.57" fill="#9fbdee"/>
<rect x="255" y="390.59" width="20" height="20.57" fill="#bad1dc"/>
<rect x="255" y="370.32" width="20" height="20.57" fill="#e0e591"/>
<rect x="255" y="350.05" width="20" height="20.57" fill="#f8ea58"/>
<rect x="255" y="329.78" width="20" height="20.57" fill="#f7c835"/>
<rect x="255" y="309.51" width="20" height="20.57" fill="#ee920f"/>
<rect x="255" y="289.24" width="20" height="20.57" fill="#ea7100"/>
<rect x="255" y="268.97" width="20" height="20.57" fill="#ea4600"/>
<rect x="255" y="248.70" width="20" height="20.57" fill="#ea2600"/>
<text x="278.4" y="255.35" font-size="8.5" fill="#1a1a1a" stroke="#1a1a1a" stroke-width="0.18" textLength="34.8" lengthAdjust="spacingAndGlyphs">kWh/m2</text>
<text x="278.4" y="275.62" font-size="8.5" fill="#1a1a1a" stroke="#1a1a1a" stroke-width="0.18" textLength="40.5" lengthAdjust="spacingAndGlyphs">1105.86&lt;</text>
<text x="278.4" y="295.89" font-size="8.5" fill="#1a1a1a" stroke="#1a1a1a" stroke-width="0.18" textLength="29" lengthAdjust="spacingAndGlyphs">995.27</text>
<text x="278.4" y="316.16" font-size="8.5" fill="#1a1a1a" stroke="#1a1a1a" stroke-width="0.18" textLength="29" lengthAdjust="spacingAndGlyphs">884.69</text>
<text x="278.4" y="336.43" font-size="8.5" fill="#1a1a1a" stroke="#1a1a1a" stroke-width="0.18" textLength="29" lengthAdjust="spacingAndGlyphs">774.10</text>
<text x="278.4" y="356.70" font-size="8.5" fill="#1a1a1a" stroke="#1a1a1a" stroke-width="0.18" textLength="29" lengthAdjust="spacingAndGlyphs">663.52</text>
<text x="278.4" y="376.97" font-size="8.5" fill="#1a1a1a" stroke="#1a1a1a" stroke-width="0.18" textLength="29" lengthAdjust="spacingAndGlyphs">552.93</text>
<text x="278.4" y="397.24" font-size="8.5" fill="#1a1a1a" stroke="#1a1a1a" stroke-width="0.18" textLength="29" lengthAdjust="spacingAndGlyphs">442.34</text>
<text x="278.4" y="417.51" font-size="8.5" fill="#1a1a1a" stroke="#1a1a1a" stroke-width="0.18" textLength="29" lengthAdjust="spacingAndGlyphs">331.76</text>
<text x="278.4" y="437.78" font-size="8.5" fill="#1a1a1a" stroke="#1a1a1a" stroke-width="0.18" textLength="29" lengthAdjust="spacingAndGlyphs">221.17</text>
<text x="278.4" y="458.05" font-size="8.5" fill="#1a1a1a" stroke="#1a1a1a" stroke-width="0.18" textLength="29" lengthAdjust="spacingAndGlyphs">110.59</text>
<text x="278.4" y="478.32" font-size="8.5" fill="#1a1a1a" stroke="#1a1a1a" stroke-width="0.18" textLength="24.9" lengthAdjust="spacingAndGlyphs">&lt;0.00</text>
<text x="47.4" y="207.00" font-size="7.8" fill="#1a1a1a" stroke="#1a1a1a" stroke-width="0.2" textLength="100.3" lengthAdjust="spacingAndGlyphs">Total Radiation(kWh/m2)</text>
<text x="47.4" y="216.75" font-size="7.8" fill="#1a1a1a" stroke="#1a1a1a" stroke-width="0.2" textLength="102.3" lengthAdjust="spacingAndGlyphs">Biskra_AP_BS_DZA_2009</text>
<text x="47.4" y="226.50" font-size="7.8" fill="#1a1a1a" stroke="#1a1a1a" stroke-width="0.2" textLength="109" lengthAdjust="spacingAndGlyphs">1 JAN 1:00 - 31 DEC 24:00</text>
<text x="9.3" y="489.20" font-size="9.0" fill="#1a1a1a" stroke="#1a1a1a" stroke-width="0.2" textLength="126.2" lengthAdjust="spacingAndGlyphs">Diffuse Radiation(kWh/m2)</text>
<text x="9.3" y="500.05" font-size="9.0" fill="#1a1a1a" stroke="#1a1a1a" stroke-width="0.2" textLength="120.4" lengthAdjust="spacingAndGlyphs">Biskra_AP_BS_DZA_2009</text>
<text x="9.3" y="510.90" font-size="9.0" fill="#1a1a1a" stroke="#1a1a1a" stroke-width="0.2" textLength="128.4" lengthAdjust="spacingAndGlyphs">1 JAN 1:00 - 31 DEC 24:00</text>
<text x="347.3" y="489.20" font-size="9.0" fill="#1a1a1a" stroke="#1a1a1a" stroke-width="0.2" textLength="121" lengthAdjust="spacingAndGlyphs">Direct Radiation(kWh/m2)</text>
<text x="347.3" y="500.05" font-size="9.0" fill="#1a1a1a" stroke="#1a1a1a" stroke-width="0.2" textLength="120.4" lengthAdjust="spacingAndGlyphs">Biskra_AP_BS_DZA_2009</text>
<text x="347.3" y="510.90" font-size="9.0" fill="#1a1a1a" stroke="#1a1a1a" stroke-width="0.2" textLength="128.4" lengthAdjust="spacingAndGlyphs">1 JAN 1:00 - 31 DEC 24:00</text>
<rect x="0" y="511.1" width="550" height="0.9" fill="#cdcdcd"/>
</svg>
</body></html>
